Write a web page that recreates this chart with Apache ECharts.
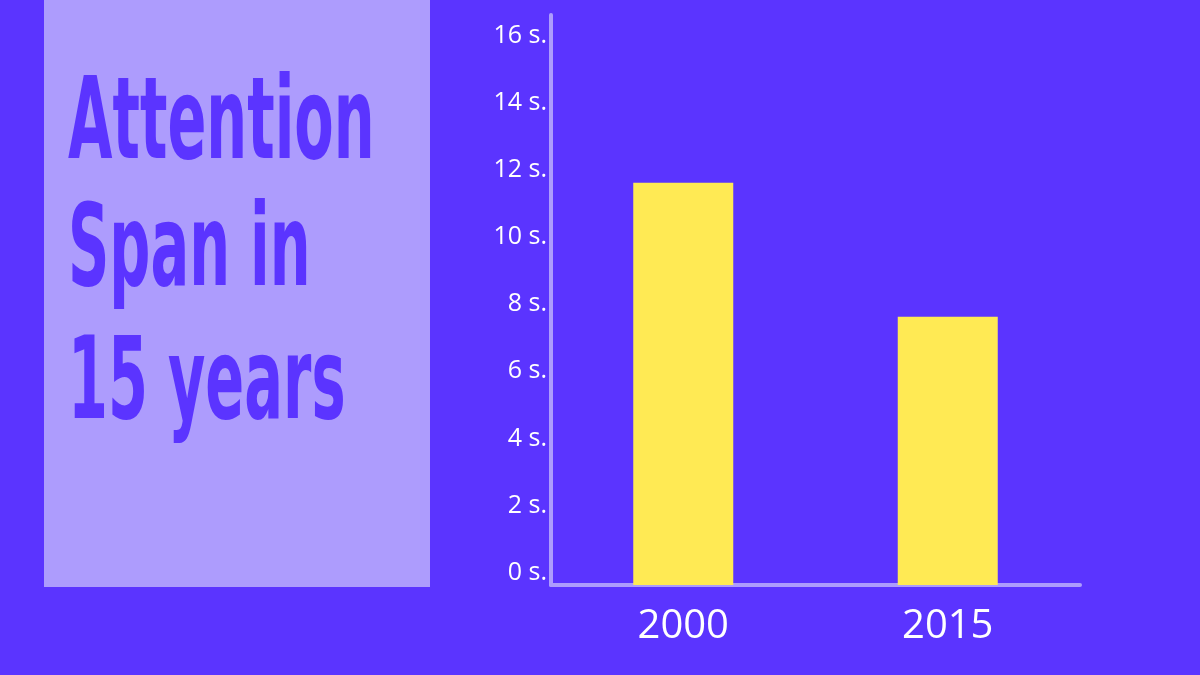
<!DOCTYPE html>
<html><head><meta charset="utf-8">
<script src="https://cdn.jsdelivr.net/npm/echarts@6/dist/echarts.min.js"></script>
<style>html,body{margin:0;padding:0;background:#5b34ff}#c{width:1200px;height:675px}</style>
</head><body><div id="c"></div>
<script>
const categories = ['2000', '2015'];
const values = [12, 8];
const titleLines = ['Attention', 'Span in', '15 years'];

const chart = echarts.init(document.getElementById('c'));
const bg = '#5b34ff', panel = '#ad9cfd';
const graphics = [{type:'rect', shape:{x:44,y:0,width:386,height:587}, style:{fill:panel}, z:0}];
const baselines = [185, 312, 445];
titleLines.forEach((t,i)=>graphics.push({
  type:'text', x:68, y:baselines[i], scaleX:0.56, z:1,
  style:{text:t, fill:bg, font:'bold 114px "DejaVu Sans Condensed"', textVerticalAlign:'bottom', textBaseline:'alphabetic'}
}));
chart.setOption({
  backgroundColor: bg,
  animation:false,
  graphic: graphics,
  grid:{left:551, right:120, top:15, bottom:90},
  xAxis:{type:'category', data:categories,
    axisLine:{lineStyle:{color:panel, width:4}}, axisTick:{show:false},
    axisLabel:{color:'#fff', fontSize:40, fontFamily:'Open Sans', margin:22}},
  yAxis:{type:'value', min:0, max:17, interval:2,
    axisLine:{show:true, lineStyle:{color:panel, width:4}}, axisTick:{show:false}, splitLine:{show:false},
    axisLabel:{color:'#fff', fontSize:25, fontFamily:'Open Sans', margin:4, verticalAlign:'bottom',
      formatter:v=> v%2===0 && v<=16 ? v+' s.' : ''}},
  series:[{type:'bar', data:values, barWidth:100, itemStyle:{color:'#ffea54'}}]
});
</script></body></html>
